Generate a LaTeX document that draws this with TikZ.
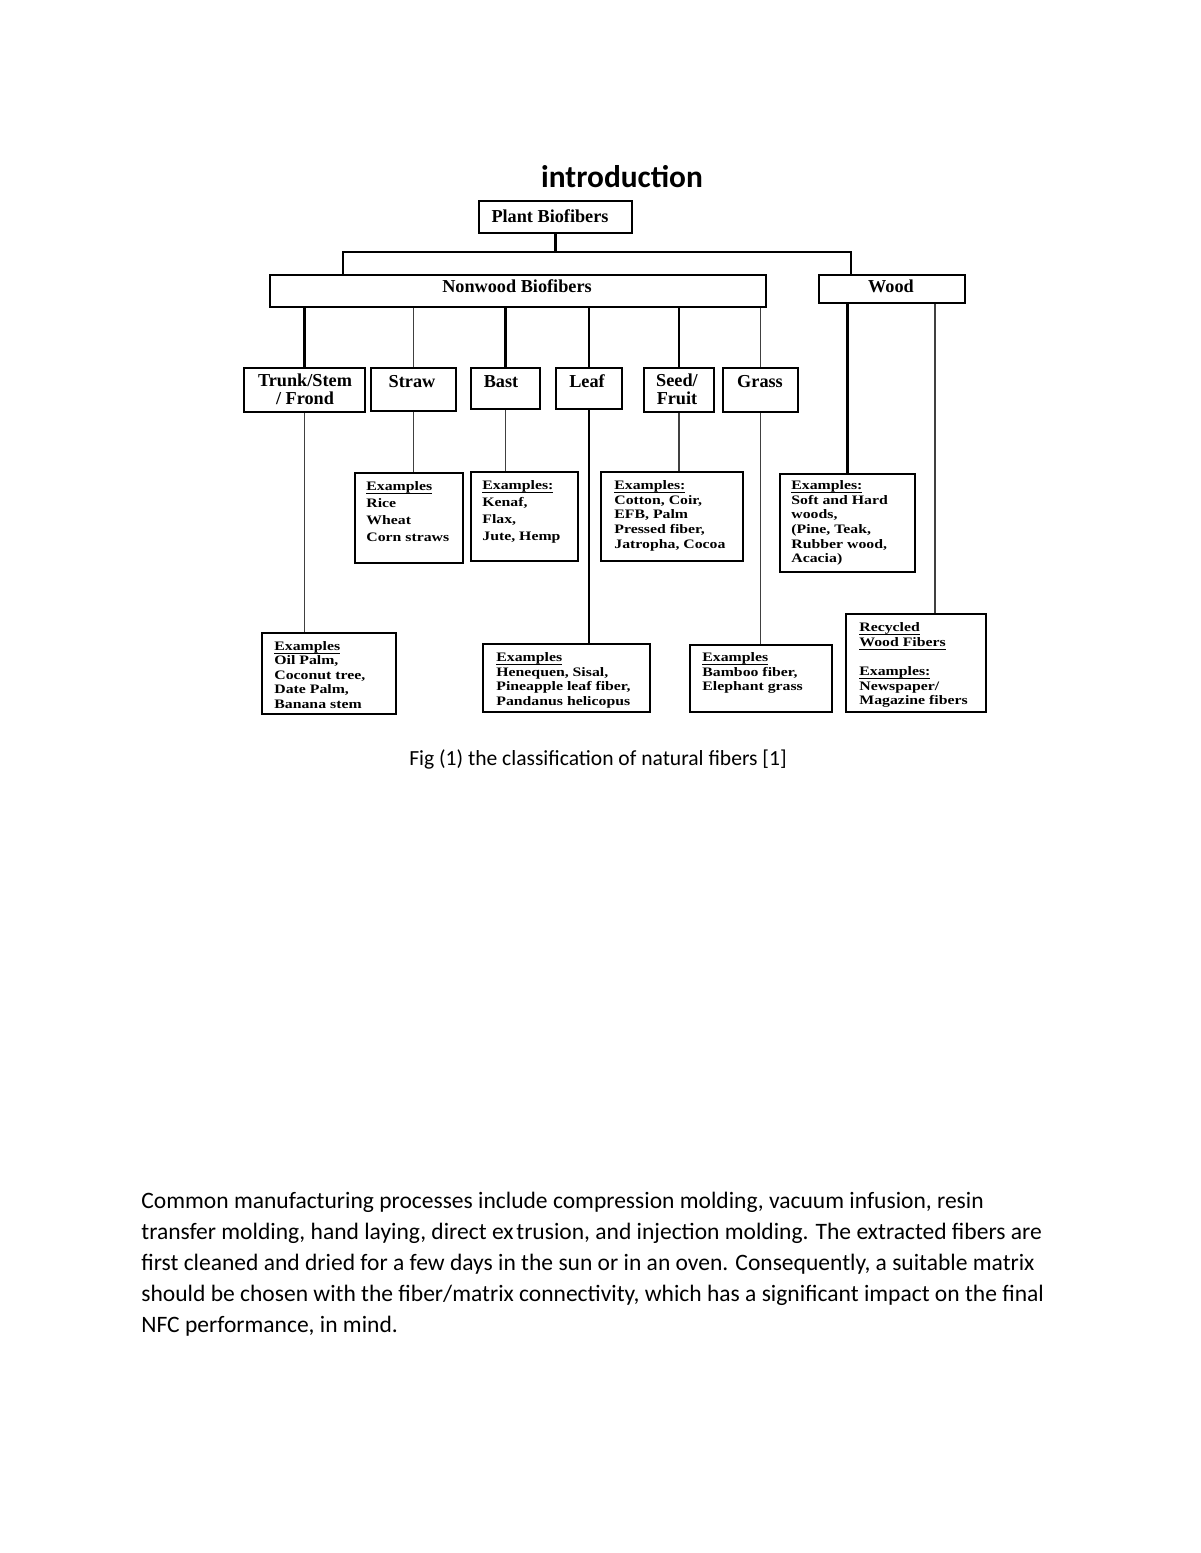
\documentclass[tikz,border=0pt]{standalone}
\usepackage{fontspec}
\setmainfont{Liberation Serif}
\newfontfamily\calib{Carlito}
\newfontfamily\exfont[FakeStretch=1.22]{Liberation Serif}
\usetikzlibrary{fit}
\newlength\ulxw
\newcommand\ulx[1]{\settowidth\ulxw{#1}\leavevmode\rlap{\rule[-1.8pt]{\ulxw}{0.4pt}}#1}
\newcommand\tightls{\lineskiplimit-20pt\relax}
\begin{document}
\begin{tikzpicture}[x=0.51pt,y=-0.51pt,
  box/.style={draw, line width=1.1pt, inner sep=0pt},
  hd/.style={font={\fontsize{9.3}{9.3}\selectfont\bfseries}, inner sep=0pt, align=center},
  hb/.style={hd, anchor=base},
  ex/.style={font={\exfont\fontsize{6.6}{7.5}\selectfont\bfseries\tightls}, inner sep=0pt, align=left, anchor=north west},
  exw/.style={font={\exfont\fontsize{6.6}{8.7}\selectfont\bfseries\tightls}, inner sep=0pt, align=left, anchor=north west},
  ext/.style={font={\exfont\fontsize{6.6}{7.4}\selectfont\bfseries\tightls}, inner sep=0pt, align=left, anchor=north west},
  link/.style={line width=1.2pt},
  lite/.style={line width=1pt, black!75},
  para/.style={font={\calib\fontsize{12}{15}\selectfont}, anchor=base west, inner sep=0pt},
]
\fill[white] (0,0) rectangle (1200,1553);
\useasboundingbox (0,0) rectangle (1200,1553);

\node[font={\calib\bfseries\fontsize{16}{19}\selectfont}, anchor=base, inner sep=0pt] (title) at (622,188) {introduction};

% top level boxes
\node[box, fit={(479,201)(632,233)}] (plant) {};
\node[hb] (plant-t) at (550,223) {Plant Biofibers};
\node[box, fit={(270,275)(766,307)}] (nonwood) {};
\node[hb] (nonwood-t) at (517,292) {Nonwood Biofibers};
\node[box, fit={(819,275)(965,303)}] (wood) {};
\node[hb] (wood-t) at (891,292) {Wood};

% categories
\node[box, fit={(244,368)(365,412)}] (trunk) {};
\node[hd] (trunk-t) at (305,389.5) {Trunk/Stem\\/ Frond};
\node[box, fit={(371,368)(456,411)}] (straw) {};
\node[hb] (straw-t) at (412,387) {Straw};
\node[box, fit={(471,368)(540,409)}] (bast) {};
\node[hb] (bast-t) at (501,387) {Bast};
\node[box, fit={(556,368)(622,409)}] (leaf) {};
\node[hb] (leaf-t) at (587,387) {Leaf};
\node[box, fit={(644,368)(714,412)}] (seed) {};
\node[hd] (seed-t) at (677,389.5) {Seed/\\Fruit};
\node[box, fit={(723,368)(798,412)}] (grass) {};
\node[hb] (grass-t) at (760,387) {Grass};

% bus
\coordinate (busL) at (343,252);
\coordinate (busR) at (851,252);
\draw[link] (plant.south) -- (plant.south |- busL);
\draw[link] (busL |- nonwood.north) -- (busL) -- (busR) -- (busR |- wood.north);

% nonwood to categories
\draw[link] (nonwood.south -| trunk.north) -- (trunk.north);
\draw[lite] (nonwood.south -| straw.north) -- (straw.north);
\draw[link] (nonwood.south -| bast.north) -- (bast.north);
\draw[link] (nonwood.south -| leaf.north) -- (leaf.north);
\draw[link] (nonwood.south -| seed.north) -- (seed.north);
\draw[lite] (nonwood.south -| grass.north) -- (grass.north);

% example boxes
\node[box, fit={(262,633)(396,714)}] (trunkex) {};
\node[ext] (trunkex-t) at (274,641) {\ulx{Examples}\\Oil Palm,\\Coconut tree,\\Date Palm,\\Banana stem};
\node[box, fit={(355,473)(463,563)}] (strawex) {};
\node[exw] (strawex-t) at (366,481) {\ulx{Examples}\\Rice\\Wheat\\Corn straws};
\node[box, fit={(471,472)(578,561)}] (bastex) {};
\node[exw] (bastex-t) at (482,480) {\ulx{Examples:}\\Kenaf,\\Flax,\\Jute, Hemp};
\node[box, fit={(601,472)(743,561)}] (seedex) {};
\node[ex] (seedex-t) at (614,480) {\ulx{Examples:}\\Cotton, Coir,\\EFB, Palm\\Pressed fiber,\\Jatropha, Cocoa};
\node[box, fit={(483,644)(650,712)}] (leafex) {};
\node[ex] (leafex-t) at (496,652) {\ulx{Examples}\\Henequen, Sisal,\\Pineapple leaf fiber,\\Pandanus helicopus};
\node[box, fit={(690,645)(832,712)}] (grassex) {};
\node[ex] (grassex-t) at (702,652) {\ulx{Examples}\\Bamboo fiber,\\Elephant grass};
\node[box, fit={(780,474)(915,572)}] (woodex) {};
\node[ex] (woodex-t) at (791,480) {\ulx{Examples:}\\Soft and Hard\\woods,\\(Pine, Teak,\\Rubber wood,\\Acacia)};
\node[box, fit={(846,614)(986,712)}] (recyc) {};
\node[ex] (recyc-t) at (859,622) {\ulx{Recycled}\\\ulx{Wood Fibers}\\[7.5pt]\ulx{Examples:}\\Newspaper/\\Magazine fibers};

% category to examples
\draw[lite] (trunk.south) -- (trunk.south |- trunkex.north);
\draw[lite] (straw.south) -- (straw.south |- strawex.north);
\draw[lite] (bast.south) -- (bast.south |- bastex.north);
\draw[link] (leaf.south) -- (leaf.south |- leafex.north);
\draw[lite] (seed.south) -- (seed.south |- seedex.north);
\draw[lite] (grass.south) -- (grass.south |- grassex.north);
\draw[link] (woodex.north |- wood.south) -- (woodex.north);
\coordinate (rc) at (935,0);
\draw[lite] (rc |- wood.south) -- (rc |- recyc.north);

\node[font={\calib\fontsize{11}{13}\selectfont}, anchor=base, inner sep=0pt] (caption) at (598,765) {Fig (1) the classification of natural fibers [1]};

\node[para] (p1) at (141,1208) {Common manufacturing processes include compression molding, vacuum infusion, resin};
\node[para] (p2) at (141,1239) {transfer molding, hand laying, direct ex\hspace{0.12em}trusion, and injection molding. The extracted fibers are};
\node[para] (p3) at (141,1270) {first cleaned and dried for a few days in the sun or in an oven. Consequently, a suitable matrix};
\node[para] (p4) at (141,1301) {should be chosen with the fiber/matrix connectivity, which has a significant impact on the final};
\node[para] (p5) at (141,1332) {NFC performance, in mind.};
\end{tikzpicture}
\end{document}
